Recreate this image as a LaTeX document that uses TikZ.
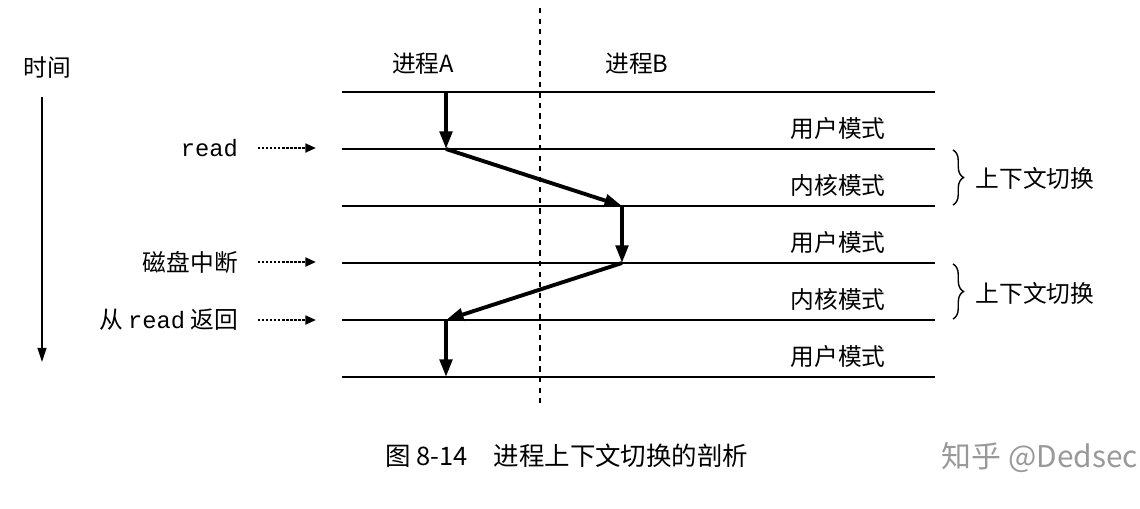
\documentclass[tikz,border=0pt]{standalone}
\usepackage{fontspec}
\newfontfamily\cjk{Noto Sans CJK SC}
\setmonofont{Liberation Mono}
\usetikzlibrary{arrows.meta,decorations.pathreplacing}
\begin{document}
\begin{tikzpicture}[x=0.02cm,y=-0.02cm,
  lbl/.style={font=\cjk\fontsize{13.5pt}{15pt}\selectfont},
  big/.style={line width=2.2pt,-{Triangle[length=10pt,width=7pt]}},
  dots/.style={densely dotted,line width=1.3pt,-{Triangle[length=6pt,width=5pt]}},
  hl/.style={line width=1.2pt}]
\useasboundingbox (0,0) rectangle (1140,508);
\foreach \y/\n in {92/l1,149/l2,206/l3,263/l4,320/l5,377/l6}{
  \draw[hl] (342,\y) coordinate (\n a) -- (935,\y) coordinate (\n b);}
\draw[dashed,line width=0.8pt] (540,8) -- (540,405);
\node[lbl] (t) at (47,68) {时间};
\node[lbl] (pa) at (423,64) {进程A};
\node[lbl] (pb) at (637,64) {进程B};
\coordinate (ta) at (42,97); \coordinate (tb) at (42,362);
\draw[line width=0.9pt,-{Triangle[length=8pt,width=5pt]}] (ta) -- (tb);
\coordinate (a1) at (446,92); \coordinate (a2) at (446,149);
\coordinate (b1) at (622,206); \coordinate (b2) at (622,263);
\coordinate (c1) at (446,320); \coordinate (c2) at (446,377);
\draw[big] (a1) -- (a2);
\draw[big] (a2) -- (b1);
\draw[big] (b1) -- (b2);
\draw[big] (b2) -- (c1);
\draw[big] (c1) -- (c2);
\foreach \y/\t in {128/用户模式,185/内核模式,242/用户模式,299/内核模式,356/用户模式}
  \node[lbl] at (838,\y) {\t};
\draw[decorate,decoration={brace,amplitude=6pt},line width=0.8pt] (953,150) -- (953,205);
\draw[decorate,decoration={brace,amplitude=6pt},line width=0.8pt] (953,264) -- (953,319);
\node[lbl] (s1) at (1035,178) {上下文切换};
\node[lbl] (s2) at (1035,293) {上下文切换};
\node[lbl,anchor=east] (r) at (244,148) {\ttfamily read};
\node[lbl,anchor=east] (d) at (244,262) {磁盘中断};
\node[lbl,anchor=east] (f) at (244,320) {从 {\ttfamily read} 返回};
\coordinate (r1) at (258,148); \coordinate (r2) at (316,148);
\coordinate (d1) at (258,262); \coordinate (d2) at (316,262);
\coordinate (f1) at (258,320); \coordinate (f2) at (316,320);
\draw[dots] (r1) -- (r2); \draw[dots] (d1) -- (d2); \draw[dots] (f1) -- (f2);
\node[lbl,font=\cjk\fontsize{14.5pt}{16pt}\selectfont] (cap) at (567,456) {图 8-14\quad 进程上下文切换的剖析};
\node[font=\cjk\fontsize{17pt}{19pt}\selectfont,text=black!40] (wm) at (1040,458) {知乎 @Dedsec};
\end{tikzpicture}
\end{document}
